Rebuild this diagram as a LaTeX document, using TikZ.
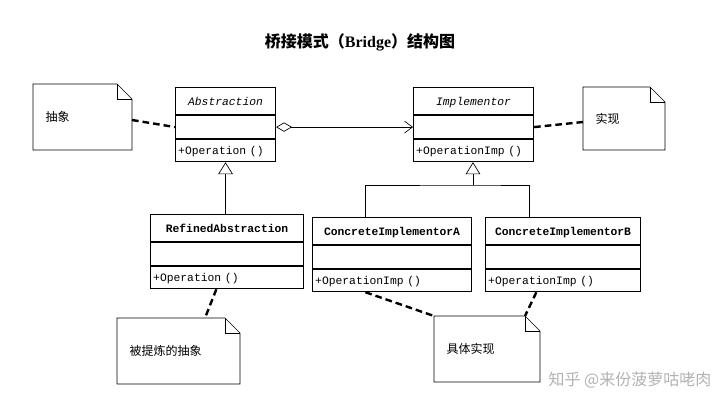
\documentclass[tikz,border=0pt]{standalone}
\usepackage{fontspec}
\setmainfont{Liberation Serif}
\setmonofont{Liberation Mono}
\newfontfamily\cjk{Noto Sans CJK SC}
\usetikzlibrary{arrows.meta,positioning}
\begin{document}
\begin{tikzpicture}[x=0.75pt,y=-0.75pt,
        font=\ttfamily\fontsize{8.5}{10}\selectfont,
        part/.style={draw,line width=0.8pt,inner sep=2pt,anchor=north west,text depth=0pt},
        head/.style={part,minimum height=27*0.75pt},
        mid/.style={part,minimum height=23*0.75pt},
        ops/.style={part,minimum height=22*0.75pt,align=left},
        note/.style={font=\cjk\fontsize{9}{11}\selectfont},
        tie/.style={line width=1.8pt,dash pattern=on 5pt off 3pt},
        gen/.style={-{Triangle[open,length=9pt,width=11pt]},line width=0.5pt}]
    \useasboundingbox (0,0) rectangle (720,406);

    % title
    \node[font=\cjk\bfseries\fontsize{12}{14}\selectfont] (title) at (360,42) {桥接模式（\textrm{\bfseries Bridge}）结构图};

    % classes
    \foreach \n/\x/\y/\w/\t/\o/\s in {
            abs/175/87/100/Abstraction/+Operation ()/\itshape,
            imp/413/87/120/Implementor/+OperationImp ()/\itshape,
            ref/150/214/153/RefinedAbstraction/+Operation ()/\bfseries,
            cia/312/217/159/ConcreteImplementorA/+OperationImp ()/\bfseries,
            cib/485/217/155/ConcreteImplementorB/+OperationImp ()/\bfseries}{
        \node[head,minimum width=\w*0.75pt,text width=\w*0.75pt-4pt,font=\ttfamily\fontsize{8.5}{10}\selectfont\s,align=center] (\n-t) at (\x,\y) {\t};
        \node[mid,minimum width=\w*0.75pt] (\n-a) at (\n-t.south west) {};
        \node[ops,minimum width=\w*0.75pt,text width=\w*0.75pt-4pt] (\n-o) at (\n-a.south west) {\o};
    }

    % notes
    \foreach \n/\x/\y/\w/\h/\t in {
            na/33/84/99/66/抽象,
            ni/583/87/82/63/实现,
            nr/117/318/123/66/被提炼的抽象,
            nc/434/316/106/66/具体实现}{
        \coordinate (\n-nw) at (\x,\y);
        \coordinate (\n-se) at ({\x+\w},{\y+\h});
        \draw[line width=0.5pt] (\x,\y) -- ({\x+\w-15},\y) -- ({\x+\w},{\y+15}) -- ({\x+\w},{\y+\h}) -- (\x,{\y+\h}) -- cycle;
        \draw[line width=0.5pt] ({\x+\w-15},\y) -- ({\x+\w-15},{\y+15}) -- ({\x+\w},{\y+15});
        \node[note,anchor=west] (\n) at ({\x+8},{\y+\h/2}) {\t};
    }
    \coordinate (nc-fold) at (525,316);

    % note links
    \draw[tie] (na-se |- 0,120) -- (abs-a.west);
    \draw[tie] (imp-a.east) -- (ni-nw |- 0,122);
    \draw[tie] ([xshift=-8pt]ref-o.south) -- (nr-nw -| 205,0);
    \draw[tie] ([xshift=-20pt]cia-o.south) -- (nc-nw);
    \draw[tie] ([xshift=-20pt]cib-o.south) -- (nc-fold);

    % aggregation
    \draw[{Diamond[open,length=12pt,width=7pt]}-{Straight Barb[length=6pt,width=9pt]},line width=0.5pt] (abs-a.east) -- (imp-a.west);

    % generalization
    \draw[gen] (ref-t.north -| abs-o.south) -- (abs-o.south);
    \coordinate (fork) at (473,185);
    \draw[line width=0.5pt] ([xshift=-20pt]cia-t.north) |- (fork) -| ([xshift=-25pt]cib-t.north);
    \draw[gen] (fork) -- (fork |- imp-o.south);

    % watermark
    \node[note,text=gray!60,font=\cjk\fontsize{12}{14}\selectfont] (mark) at (630,380) {知乎 @来份菠萝咕咾肉};
\end{tikzpicture}
\end{document}
